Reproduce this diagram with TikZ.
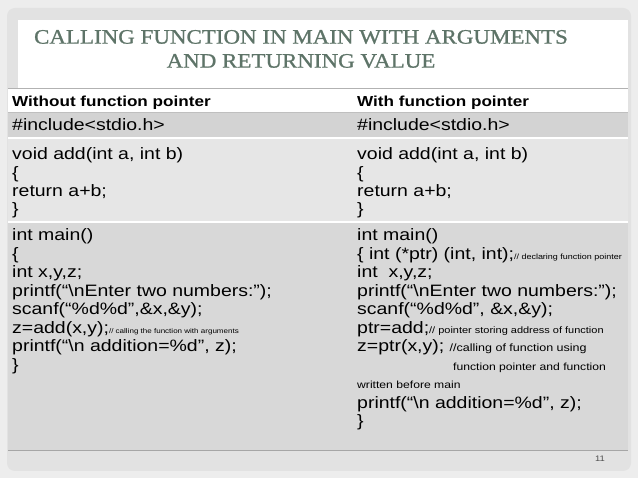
\documentclass[tikz,border=0pt]{standalone}
\usepackage{fontspec}
\setmainfont{Liberation Sans}[FakeStretch=1.18]
\newfontfamily\titlefont{Liberation Serif}[FakeStretch=1.12,FakeBold=1]
\definecolor{outerbg}{HTML}{EDEDED}
\definecolor{panel}{HTML}{E2E2E2}
\definecolor{rowA}{HTML}{D3D3D3}
\definecolor{rowB}{HTML}{E6E6E6}
\definecolor{rowC}{HTML}{D8D8D8}
\definecolor{titlec}{HTML}{5E7468}
\begin{document}
\begin{tikzpicture}[x=1pt,y=-1pt,
  code/.style={anchor=base west,inner sep=0pt,font=\fontsize{16.5}{20}\selectfont},
  small/.style={anchor=base west,inner sep=0pt,font=\fontsize{10.3}{12}\selectfont},
  head/.style={anchor=base west,inner sep=0pt,font=\bfseries\fontsize{14.5}{18}\selectfont}]
\fill[outerbg] (0,0) rectangle (638,478);
\useasboundingbox (0,0) rectangle (638,478);
\fill[panel,rounded corners=8pt] (7,8) rectangle (631,471);
\fill[white] (18,20) rectangle (628,88);
\node[font=\titlefont\fontsize{20.5}{24}\selectfont,text=titlec,align=center] (title) at (301,49)
 {CALLING FUNCTION IN MAIN WITH ARGUMENTS\\AND RETURNING VALUE};
\fill[white] (8,88) rectangle (628,113);
\draw[gray!60] (8,88) -- (628,88);
\fill[rowA] (8,113) rectangle (628,138);
\draw[gray!50,line width=1pt] (8,113) -- (628,113);
\fill[rowB] (8,138) rectangle (628,222);
\draw[white,line width=1.5pt] (8,138) -- (628,138);
\fill[rowC] (8,222) rectangle (628,450);
\draw[white,line width=1.5pt] (8,222) -- (628,222);
\draw[gray!70] (8,450) -- (628,450);
\node[head] (h1) at (12,107) {Without function pointer};
\node[head] (h2) at (357,107) {With function pointer};
\node[code] (a1) at (12,131) {\#include<stdio.h>};
\node[code] (b1) at (357,131) {\#include<stdio.h>};
\node[code] at (12,160) {void add(int a, int b)};
\node[code] at (12,179) {\{};
\node[code] at (12,197) {return a+b;};
\node[code] at (12,215) {\}};
\node[code] at (357,160) {void add(int a, int b)};
\node[code] at (357,179) {\{};
\node[code] at (357,197) {return a+b;};
\node[code] at (357,215) {\}};
\node[code] at (12,241) {int main()};
\node[code] at (12,260) {\{};
\node[code] at (12,278) {int x,y,z;};
\node[code] at (12,297) {printf(“\textbackslash nEnter two numbers:”);};
\node[code] at (12,315) {scanf(“\%d\%d”,\&x,\&y);};
\node[code] at (12,334) {z=add(x,y);{\fontsize{6.8}{10}\selectfont// calling the function with arguments}};
\node[code] at (12,352) {printf(“\textbackslash n addition=\%d”, z);};
\node[code] at (12,371) {\}};
\node[code] at (357,241) {int main()};
\node[code] at (357,260) {\{ int (*ptr) (int, int);{\fontsize{7.6}{10}\selectfont// declaring function pointer}};
\node[code] at (357,278) {int~~x,y,z;};
\node[code] at (357,297) {printf(“\textbackslash nEnter two numbers:”);};
\node[code] at (357,315) {scanf(“\%d\%d”, \&x,\&y);};
\node[code] at (357,334) {ptr=add;{\fontsize{9.3}{12}\selectfont// pointer storing address of function}};
\node[code] at (357,352) {z=ptr(x,y); {\fontsize{10.6}{14}\selectfont//calling of function using}};
\node[small] at (453,371) {function pointer and function};
\node[small] at (357,389) {written before main};
\node[code] at (357,409) {printf(“\textbackslash n addition=\%d”, z);};
\node[code] at (357,427) {\}};
\node[anchor=base east,inner sep=0pt,font=\fontsize{8}{10}\selectfont,text=black!70] (pg) at (605,462) {11};
\end{tikzpicture}
\end{document}
